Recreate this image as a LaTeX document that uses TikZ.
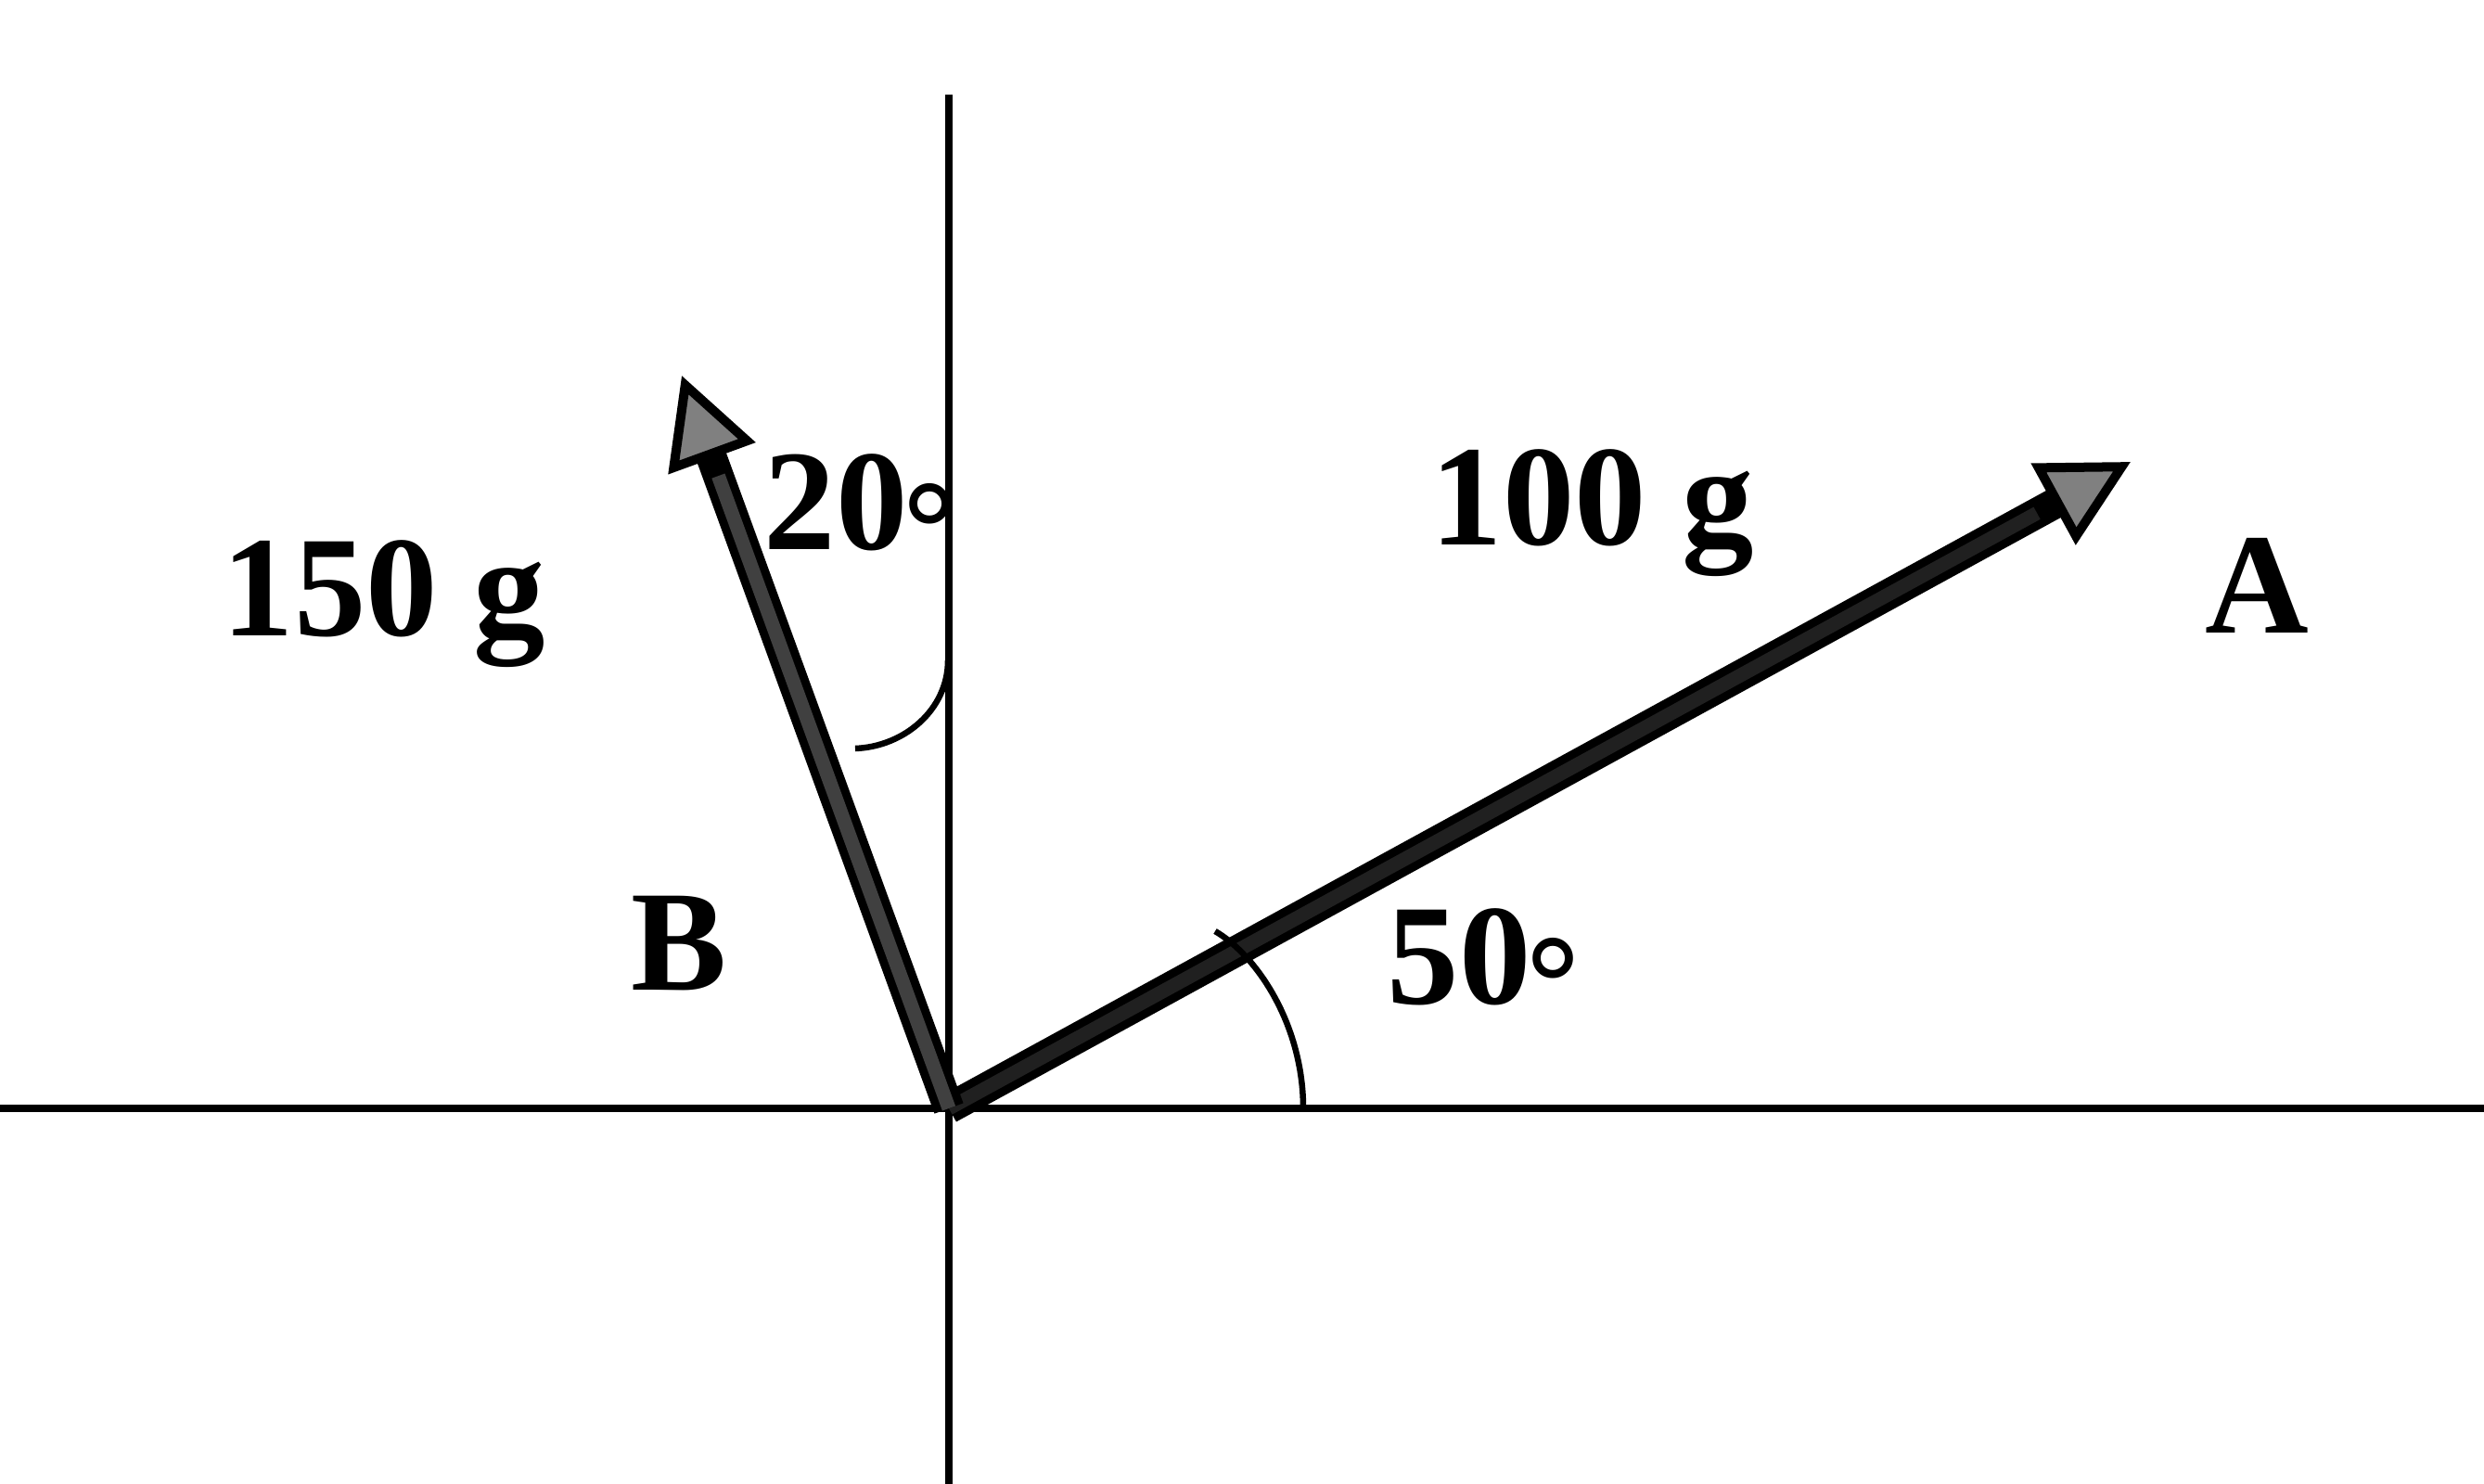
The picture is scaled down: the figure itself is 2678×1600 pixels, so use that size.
\documentclass[tikz,border=0pt]{standalone}
\usepackage{fontspec}
\setmainfont{Liberation Serif}
\newfontfamily\symfont{DejaVu Sans}
\usetikzlibrary{arrows.meta}
\newcommand{\degring}{\kern-0.2cm\raisebox{0.05cm}{\symfont\mdseries\fontsize{40pt}{40pt}\selectfont ∘}}
\begin{document}
\begin{tikzpicture}[x=0.01cm,y=-0.01cm,
  axis/.style={line width=0.085cm,black},
  anglearc/.style={line width=0.065cm,black},
  lbl/.style={inner sep=0pt,anchor=base,font=\fontsize{44pt}{44pt}\selectfont\bfseries},
  vec/.style={line width=0.33cm,black,-{Triangle[length=0.95cm,width=0.98cm,fill=gray,line width=0.1cm]}},
  core/.style={line width=0.15cm,shorten >=1.15cm}
]
\useasboundingbox (0,0) rectangle (2678,1600);
\fill[white] (0,0) rectangle (2678,1600);
% axes
\coordinate (O) at (1023,1195);
\coordinate (L) at (0,1195);
\coordinate (R) at (2678,1195);
\coordinate (T) at (1023,102);
\coordinate (D) at (1023,1600);
\draw[axis] (L) -- (R);
\draw[axis] (T) -- (D);
% vectors
\coordinate (Atip) at (2297,498);
\coordinate (Btip) at (735,405);
\draw[vec] (O) -- (Atip);
\draw[core,gray!25!black] (O) -- (Atip);
\draw[vec] (O) -- (Btip);
\draw[core,gray!50!black] (O) -- (Btip);
% angle arcs
\coordinate (A1) at (1405,1195);
\coordinate (A2) at (1310,1004);
\draw[anglearc] (A1) .. controls (1405,1105) and (1355,1030) .. (A2);
\coordinate (B1) at (922,807);
\coordinate (B2) at (1022,712);
\draw[anglearc] (B1) .. controls (975,805) and (1022,765) .. (B2);
% labels
\node[lbl] (m150) at (414,685) {150 g};
\node[lbl] (m100) at (1717,587) {100 g};
\node[lbl] (la) at (2433,682) {A};
\node[lbl] (lb) at (732,1067) {B};
\node[lbl,anchor=base west] (a50) at (1495,1082) {50\degring};
\node[lbl,anchor=base west] (a20) at (823,592) {20\degring};
\end{tikzpicture}
\end{document}
